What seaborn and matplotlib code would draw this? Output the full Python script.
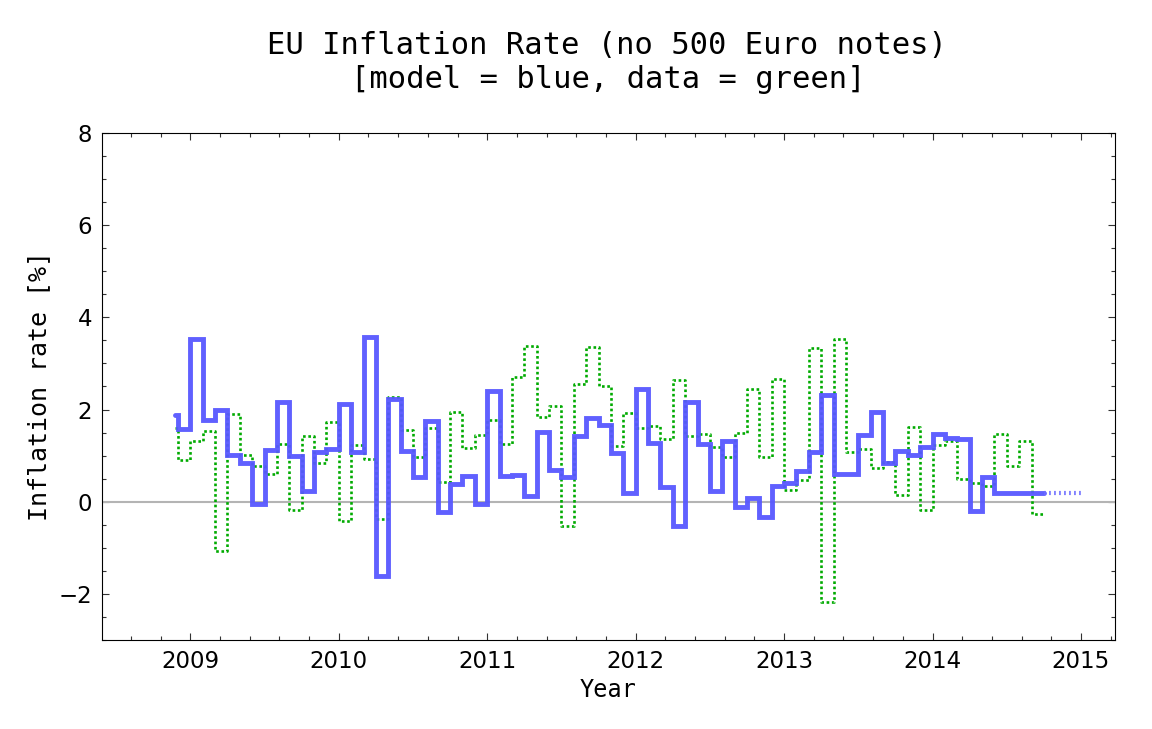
import numpy as np
import pandas as pd
import matplotlib
matplotlib.use("Agg")
import matplotlib.pyplot as plt
import seaborn as sns
from matplotlib.ticker import MultipleLocator

# ---------------- data ----------------
stub_start = 2008.895          # short lead-in before first month
month_start = 2008 + 11 / 12   # December 2008
blue_first = 1.88
green_first = 1.61

model_values = [1.57, 3.52, 1.77, 1.98, 1.01, 0.85, -0.05, 1.12, 2.17, 1.00, 0.24, 1.08, 1.15,
                2.11, 1.08, 3.58, -1.62, 2.22, 1.10, 0.54, 1.76, -0.22, 0.38, 0.56, -0.05,
                2.40, 0.56, 0.58, 0.13, 1.52, 0.69, 0.53, 1.43, 1.82, 1.67, 1.05, 0.19,
                2.45, 1.27, 0.31, -0.53, 2.16, 1.26, 0.24, 1.31, -0.12, 0.09, -0.33,
                0.35, 0.40, 0.67, 1.07, 2.31, 0.61, 0.61, 1.45, 1.95, 0.83,
                1.11, 1.02, 1.19, 1.46, 1.38, 1.36, -0.21, 0.53, 0.19, 0.19, 0.19, 0.19]

data_values = [0.90, 1.32, 1.54, -1.06, 1.91, 1.01, 0.78, 0.61, 1.25, -0.18, 1.43, 0.83, 1.72,
               -0.41, 1.23, 0.92, -0.37, 2.27, 1.55, 0.96, 1.59, 0.43, 1.95, 1.16, 1.45,
               1.77, 1.26, 2.71, 3.37, 1.84, 2.08, -0.53, 2.55, 3.36, 2.51, 1.21, 1.93,
               1.59, 1.64, 1.36, 2.63, 1.43, 1.48, 1.18, 0.96, 1.50, 2.45, 0.97,
               2.66, 0.26, 0.47, 3.33, -2.18, 3.54, 1.07, 1.15, 0.74, 0.87,
               0.14, 1.62, -0.18, 1.23, 1.32, 0.49, 0.40, 0.35, 1.48, 0.78, 1.31, -0.27]

forecast_value = 0.19
forecast_months = 3

x_ticks = [2009, 2010, 2011, 2012, 2013, 2014, 2015]
y_ticks = [-2, 0, 2, 4, 6, 8]

title_line1 = "EU Inflation Rate (no 500 Euro notes)"
title_line2 = "[model = blue, data = green]"
x_label = "Year"
y_label = "Inflation rate [%]"


def step_frame(first, values):
    n = len(values)
    edges = month_start + np.arange(n + 1) / 12
    x = np.concatenate([[stub_start], edges])
    y = np.concatenate([[first], values, [values[-1]]])
    return pd.DataFrame({"t": x, "v": y})


model_df = step_frame(blue_first, model_values)
data_df = step_frame(green_first, data_values)
end_t = month_start + len(model_values) / 12
fc_df = pd.DataFrame({"t": [end_t, end_t + forecast_months / 12],
                      "v": [forecast_value, forecast_value]})

# ---------------- style ----------------
sns.set_theme(style="ticks")
plt.rcParams["font.family"] = ["DejaVu Sans"]
plt.rcParams["text.color"] = "black"
plt.rcParams["axes.labelcolor"] = "black"

fig = plt.figure(figsize=(11.52, 7.29), dpi=100)
ax = fig.add_axes([0.0883, 0.122, 0.8797, 0.6957])

ax.axhline(0, color="#b4b4b4", lw=1.5, zorder=1)

sns.lineplot(data=data_df, x="t", y="v", ax=ax, drawstyle="steps-post",
             color="#00aa00", lw=1.9, linestyle=(0, (1, 1)), zorder=2,
             estimator=None, sort=False)
sns.lineplot(data=model_df, x="t", y="v", ax=ax, drawstyle="steps-post",
             color="#5757ff", lw=3.5, zorder=3, alpha=0.95,
             estimator=None, sort=False, solid_joinstyle="miter")
sns.lineplot(data=fc_df, x="t", y="v", ax=ax, color="#6b6bff",
             lw=3.0, linestyle=(0, (0.45, 0.75)), zorder=3, alpha=0.85,
             estimator=None, sort=False)

ax.set_xlim(2008.403, 2015.23)
ax.set_ylim(-3, 8)
ax.set_xticks(x_ticks)
ax.set_yticks(y_ticks)
ax.xaxis.set_minor_locator(MultipleLocator(0.2))
ax.yaxis.set_minor_locator(MultipleLocator(0.5))
ax.tick_params(which="both", direction="in", top=True, right=True,
               color="#333333", width=0.8, labelsize=16.5, labelcolor="black")
ax.tick_params(which="major", length=5, pad=7)
ax.tick_params(which="minor", length=3)
for s in ax.spines.values():
    s.set_color("black")
    s.set_linewidth(0.8)

mono = "DejaVu Sans Mono"
ax.set_xlabel(x_label, fontsize=17, family=mono, labelpad=4, color="black")
ax.set_ylabel(y_label, fontsize=18, family=mono, labelpad=5, color="black")

fig.text(0.527, 1 - 46 / 729, title_line1, ha="center", va="center",
         fontsize=22, family=mono, color="black")
fig.text(0.528, 1 - 80 / 729, title_line2, ha="center", va="center",
         fontsize=22, family=mono, color="black")

fig.savefig("out.png", dpi=100)
